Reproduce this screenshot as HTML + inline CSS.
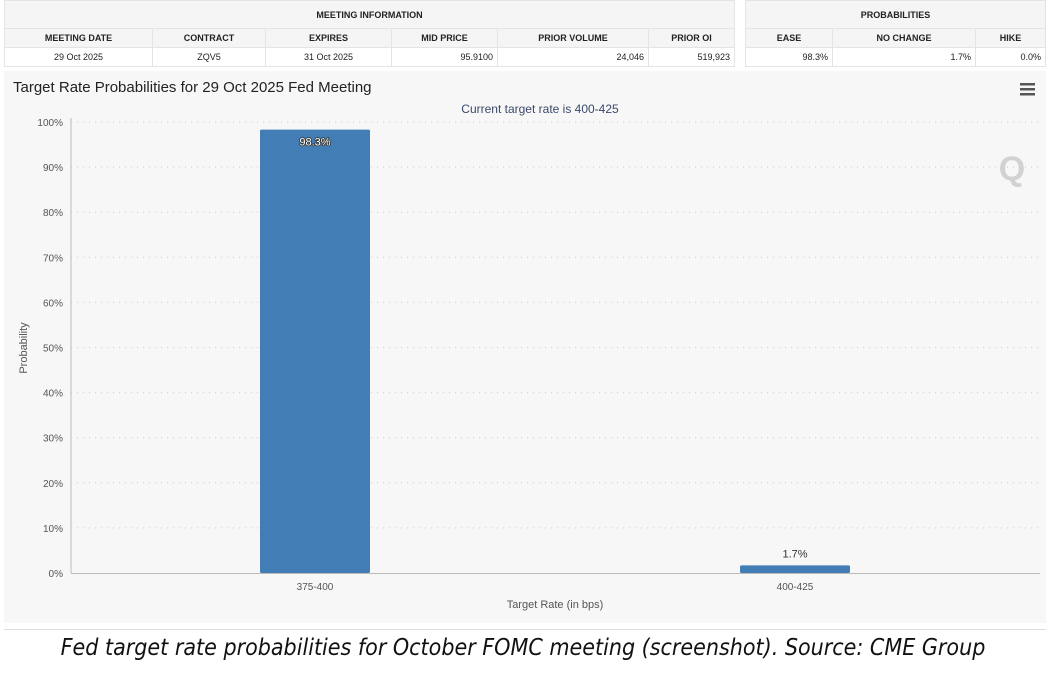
<!DOCTYPE html>
<html><head><meta charset="utf-8"><style>
body{margin:0;width:1046px;height:700px;background:#fff;font-family:"Liberation Sans",sans-serif;position:relative;overflow:hidden}
table{border-collapse:collapse;position:absolute;font-size:9px;color:#222}
td{border:1px solid #e4e4e4;height:18px;padding:0 4px}
.hd td{background:#f5f5f5;font-weight:bold;text-align:center}
.top td{background:#f5f5f5;font-weight:bold;text-align:center;height:27px}
.r{text-align:right}.c{text-align:center}
</style></head><body>
<table style="left:4px;top:0;width:731px">
<tr class="top"><td colspan="7">MEETING INFORMATION</td></tr>
<tr class="hd"><td style="width:139px">MEETING DATE</td><td style="width:104px">CONTRACT</td><td style="width:117px">EXPIRES</td><td style="width:97px">MID PRICE</td><td style="width:142px">PRIOR VOLUME</td><td>PRIOR OI</td></tr>
<tr><td class="c">29 Oct 2025</td><td class="c">ZQV5</td><td class="c">31 Oct 2025</td><td class="r">95.9100</td><td class="r">24,046</td><td class="r">519,923</td></tr>
</table>
<table style="left:745px;top:0;width:301px">
<tr class="top"><td colspan="3">PROBABILITIES</td></tr>
<tr class="hd"><td style="width:78px">EASE</td><td style="width:134px">NO CHANGE</td><td>HIKE</td></tr>
<tr><td class="r">98.3%</td><td class="r">1.7%</td><td class="r">0.0%</td></tr>
</table>
<div style="position:absolute;left:4px;top:71px;width:1042px;height:552px;background:#f7f7f7"></div>
<svg id="chart" width="1046" height="700" style="position:absolute;left:0;top:0" font-family="Liberation Sans, DejaVu Sans, sans-serif">
<text x="13" y="92" font-size="15" fill="#222">Target Rate Probabilities for 29 Oct 2025 Fed Meeting</text>
<text x="540" y="113" font-size="12" fill="#3a4a6b" text-anchor="middle">Current target rate is 400-425</text>
<g fill="#555"><rect x="1020" y="83" width="15" height="2.5"/><rect x="1020" y="88" width="15" height="2.5"/><rect x="1020" y="93" width="15" height="2.5"/></g>
<text x="1012" y="180" font-size="34" font-weight="bold" fill="#d2d2d2" text-anchor="middle">Q</text>
<text transform="translate(27,348) rotate(-90)" font-size="11" fill="#555" text-anchor="middle">Probability</text>
<text x="555" y="608" font-size="11" fill="#555" text-anchor="middle">Target Rate (in bps)</text>
<g id="grid"></g><g id="bars"></g>
<line x1="71" y1="118" x2="71" y2="573" stroke="#bbb"/>
<line x1="71" y1="573.5" x2="1040" y2="573.5" stroke="#bbb"/>
</svg>
<div style="position:absolute;left:4px;top:629px;width:1042px;height:1px;background:#ddd"></div>
<div style="position:absolute;left:0;width:1046px;top:635px;text-align:center;font-style:italic;font-size:23px;color:#111;font-family:'DejaVu Sans Condensed','Liberation Sans Narrow','Liberation Sans',sans-serif">Fed target rate probabilities for October FOMC meeting (screenshot). Source: CME Group</div>
<script>
const categories=["375-400","400-425"];
const values=[98.3,1.7];
const labels=["98.3%","1.7%"];
const yTicks=[0,10,20,30,40,50,60,70,80,90,100];
const NS="http://www.w3.org/2000/svg";
const X0=75,X1=1035,Y0=573,Y1=122;
const y=v=>Y0-(v/100)*(Y0-Y1);
const band=(X1-X0)/categories.length;
const xc=i=>X0+band*(i+0.5);
function mk(t,a,p){const e=document.createElementNS(NS,t);for(const k in a)e.setAttribute(k,a[k]);p.appendChild(e);return e;}
const g=document.getElementById('grid'),b=document.getElementById('bars');
yTicks.forEach(t=>{
  if(t>0){const l=mk('line',{x1:71,x2:1040,y1:y(t),y2:y(t),stroke:'#ccc','stroke-dasharray':'1 5'},g);
  
  }
  const tx=mk('text',{x:63,y:y(t)+4,'font-size':10,fill:'#555','text-anchor':'end'},g);tx.textContent=t+'%';
  
  
});
categories.forEach((c,i)=>{
  const r=mk('rect',{x:xc(i)-55,width:110,y:y(values[i]),height:Y0-y(values[i]),fill:'#437db5',rx:1.5},b);
  
  
  const inside=values[i]>10;
  const attrs={x:xc(i),y:inside?y(values[i])+16:y(values[i])-8,'font-size':11,fill:inside?'#fff':'#333','text-anchor':'middle'};
  if(inside){attrs.stroke='#333';attrs['stroke-width']=1.6;attrs['paint-order']='stroke';attrs['stroke-linejoin']='round';}
  const lt=mk('text',attrs,b);
  lt.textContent=labels[i];
  
  
  const ct=mk('text',{x:xc(i),y:590,'font-size':10,fill:'#555','text-anchor':'middle'},b);ct.textContent=c;
  
  
});
</script>
</body></html>
